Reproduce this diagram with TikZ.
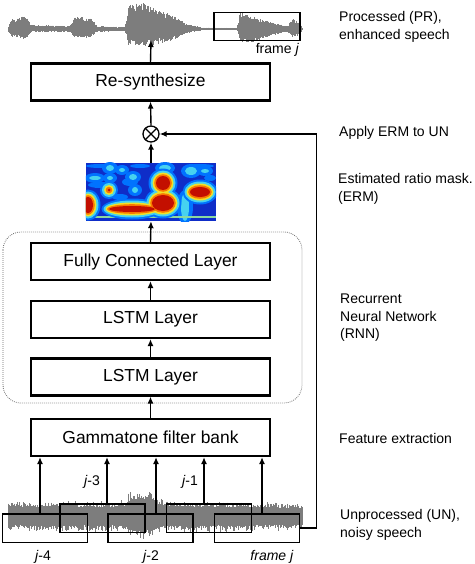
\documentclass[tikz,border=0pt]{standalone}
\usepackage{fontspec}
\setmainfont{Liberation Sans}
\usetikzlibrary{arrows.meta}
\definecolor{wavegray}{RGB}{125,125,125}
\definecolor{boxgray}{RGB}{105,105,105}
\definecolor{specblue}{RGB}{15,45,200}
\definecolor{specmid}{RGB}{0,115,255}
\definecolor{speccyan}{RGB}{70,210,240}
\definecolor{specyellow}{RGB}{240,225,40}
\definecolor{specorange}{RGB}{250,120,0}
\definecolor{specred}{RGB}{195,15,0}

\begin{document}
\begin{tikzpicture}[x=1pt,y=-1pt]
        \tikzstyle{block}=[draw, line width=2.2pt, minimum width=239pt, minimum height=37pt, inner sep=0pt, font=\fontsize{17.4}{20}\selectfont]
        \tikzstyle{framebox}=[draw, line width=1.5pt, minimum width=85pt, minimum height=28.5pt, inner sep=0pt]
        \tikzstyle{arrow}=[line width=1.4pt, -{Latex[length=7pt,width=6pt]}]
        \tikzstyle{note}=[anchor=west, align=left, inner sep=0pt, font=\fontsize{14}{17.5}\selectfont]
        \tikzstyle{tag}=[inner sep=0pt, font=\fontsize{14}{17}\selectfont]
        \tikzstyle{wave}=[wavegray, line width=1pt]
        \useasboundingbox (0,0) rectangle (474,564);

        % processed speech
        \pgfmathsetseed{42}
        \foreach \xa/\xb/\ua/\ub/\da/\db in {8/12/2/11/2/8, 12/25/11/13/8/10, 25/32/13/4/10/3, 32/70/4/3/3/3, 70/74/3/12/3/9, 74/90/12/12/9/9, 90/97/12/3/9/3, 97/125/3/2/3/2, 125/128/2/24/2/15, 128/145/24/27/15/17, 145/153/27/21/17/16, 153/170/21/15/16/13, 170/187/15/5/13/4, 187/200/5/2/4/2, 200/237/1.5/1/1.5/1, 237/240/1/17/1/13, 240/250/17/13/13/14, 250/270/13/7/14/7, 270/287/7/3/7/3, 287/292/3/10/3/8, 292/300/10/7/8/6, 300/302/7/1/6/1}
          \foreach \x in {\xa,...,\xb}
            \foreach \dx in {0,0.5} {
              \pgfmathsetmacro\wpos{(\x+\dx-\xa)/(\xb-\xa)}
              \pgfmathsetmacro\wup{(\ua+(\ub-\ua)*\wpos)*(0.6+0.4*rnd)}
              \pgfmathsetmacro\wdn{(\da+(\db-\da)*\wpos)*(0.6+0.4*rnd)}
              \draw[wave] (\x+\dx,29-\wup) -- (\x+\dx,29+\wdn);
            }
        \coordinate (pr) at (151,40);
        \node[framebox, line width=1.3pt, minimum width=86pt] (pfj) at (257,26.5) {};
        \node[tag, anchor=north east, inner sep=1.5pt] (pfjtag) at (pfj.south east) {frame \textit{j}};

        % noisy speech
        \foreach \xa/\xb/\ua/\ub/\da/\db in {8/125/15/16/16/17, 125/130/16/27/17/23, 130/150/27/28/23/25, 150/157/28/18/25/17, 157/190/18/16/17/17, 190/302/16/14/17/15}
          \foreach \x in {\xa,...,\xb}
            \foreach \dx in {0,0.5} {
              \pgfmathsetmacro\wpos{(\x+\dx-\xa)/(\xb-\xa)}
              \pgfmathsetmacro\wup{(\ua+(\ub-\ua)*\wpos)*(0.55+0.45*rnd*rnd)}
              \pgfmathsetmacro\wdn{(\da+(\db-\da)*\wpos)*(0.55+0.45*rnd*rnd)}
              \draw[wave] (\x+\dx,516-\wup) -- (\x+\dx,516+\wdn);
            }
        \node[framebox] (f4) at (45,528) {};
        \node[framebox] (f3) at (102.5,518) {};
        \node[framebox] (f2) at (150.5,528) {};
        \node[framebox] (f1) at (209,518) {};
        \node[framebox] (fj) at (257,528) {};
        \node[tag] (f4tag) at (43,557) {\textit{j}-4};
        \node[tag] (f3tag) at (92,482) {\textit{j}-3};
        \node[tag] (f2tag) at (151,557) {\textit{j}-2};
        \node[tag] (f1tag) at (190,482) {\textit{j}-1};
        \node[tag] (fjtag) at (272,557) {\textit{frame j}};

        % blocks
        \node[block] (resyn) at (150.5,82) {Re-synthesize};
        \node[circle, draw, line width=1.3pt, minimum size=16pt, inner sep=0pt] (mul) at (151,134) {};
        \draw[line width=1.3pt] (mul.north west) -- (mul.south east) (mul.north east) -- (mul.south west);
        \node[fill=specblue, minimum width=130pt, minimum height=58pt, inner sep=0pt] (erm) at (151,192) {};
        \begin{scope}
          \clip (erm.south west) rectangle (erm.north east);
          \foreach \bx/\by/\brx/\bry in {100/166/14/2, 140/166/10/2, 200/166/14/2, 100/185/12/3, 130/182/8/4, 120/197/8/3, 210/178/6/3}
            \fill[specmid] (\bx,\by) ellipse [x radius=\brx, y radius=\bry];
          \foreach \bx/\by/\brx/\bry in {110/168/4/3, 165/168/6/3, 191/171/6/4, 95/178/6/2, 133/177/4/3, 135/190/3/3, 185/207/4/14, 122/170/3/2, 110/178/3/2, 205/171/4/2}
          {
            \pgfmathsetmacro\rx{\brx+4}
            \pgfmathsetmacro\ry{\bry+3}
            \fill[specmid] (\bx,\by) ellipse [x radius=\rx, y radius=\ry];
            \fill[speccyan] (\bx,\by) ellipse [x radius=\brx, y radius=\bry];
          }
          \fill[speccyan!60!specyellow] (86,215.5) rectangle (216,217.5);
          \foreach \col/\grow in {specmid/7.5, speccyan/5.5, specyellow/3.5, specorange/1.8, specred/0}
            \foreach \bx/\by/\brx/\bry in {88/205/5/8, 132/209/23/3, 163/203/11/8, 163/183/7/7, 200/192/10/5, 109/190/1.5/1.5}
            {
              \pgfmathsetmacro\rx{\brx+\grow}
              \pgfmathsetmacro\ry{\bry+\grow}
              \fill[\col] (\bx,\by) ellipse [x radius=\rx, y radius=\ry];
            }
        \end{scope}
        \draw[boxgray, line width=0.8pt, dash pattern=on 0.8pt off 1.2pt, rounded corners=18pt] (3,232) rectangle (302,403);
        \node[block] (fc) at (150.5,261.5) {Fully Connected Layer};
        \node[block] (lstma) at (150.5,319.5) {LSTM Layer};
        \node[block] (lstmb) at (150.5,377) {LSTM Layer};
        \node[block] (gt) at (150.5,437.5) {Gammatone filter bank};

        % connectors
        \draw[arrow] (resyn.north) -- (pr);
        \draw[arrow] (mul.north) -- (resyn.south);
        \draw[arrow] (erm.north) -- (mul.south);
        \draw[arrow] (fc.north) -- (erm.south);
        \draw[arrow] (lstma.north) -- (fc.south);
        \draw[arrow] (lstmb.north) -- (lstma.south);
        \draw[arrow] (gt.north) -- (lstmb.south);
        \draw[arrow] ([xshift=-5pt]f4.north) -- ([xshift=-5pt]f4.north |- gt.south);
        \draw[arrow] ([xshift=4.5pt]f3.north) -- ([xshift=4.5pt]f3.north |- gt.south);
        \draw[arrow] ([xshift=5.5pt]f2.north) -- ([xshift=5.5pt]f2.north |- gt.south);
        \draw[arrow] ([xshift=-5pt]f1.north) -- ([xshift=-5pt]f1.north |- gt.south);
        \draw[arrow] ([xshift=5pt]fj.north) -- ([xshift=5pt]fj.north |- gt.south);
        \draw[arrow] (fj.east) -- ++(16,0) |- (mul.east);

        % notes
        \node[note] (prnote) at (339,27) {Processed (PR),\\enhanced speech};
        \node[note] (applynote) at (339,133) {Apply ERM to UN};
        \node[note] (ermnote) at (338,189) {Estimated ratio mask.\\(ERM)};
        \node[note] (rnnnote) at (340,318) {Recurrent\\Neural Network\\(RNN)};
        \node[note] (featnote) at (339,438) {Feature extraction};
        \node[note] (unnote) at (340,525) {Unprocessed (UN),\\noisy speech};
\end{tikzpicture}
\end{document}
